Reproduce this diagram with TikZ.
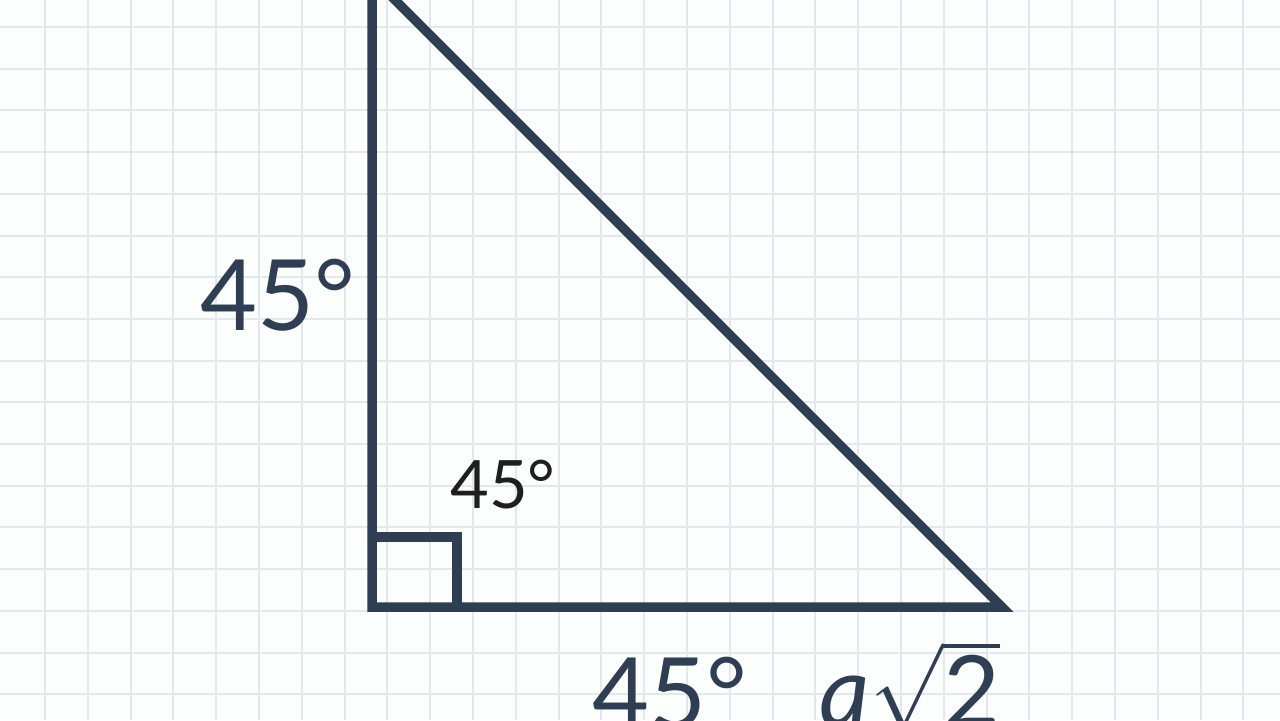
\documentclass[tikz,border=0pt]{standalone}
\usepackage{fontspec}
\setmainfont{Lato}
\definecolor{paper}{HTML}{FCFDFD}
\definecolor{gridblue}{HTML}{E3E8EC}
\definecolor{slate}{HTML}{2F3E53}

\begin{document}
\begin{tikzpicture}
    [x=0.1mm, y=-0.1mm,
    gridline/.style={draw=gridblue, line width=0.2mm},
    side/.style={draw=slate, line width=0.95mm, line join=miter},
    angle/.style={anchor=base, inner sep=0pt, text=slate,
        font=\fontsize{28}{32}\selectfont},
    smallangle/.style={angle, text=black!88,
        font=\fontsize{19}{22}\selectfont}
    ]

    \useasboundingbox (0,0) rectangle (1280,720);
    \clip (0,0) rectangle (1280,720);
    \fill[paper] (0,0) rectangle (1280,720);

    % squared paper
    \foreach \i in {0,...,28}
        \draw[gridline] (45+42.8*\i,0) -- (45+42.8*\i,720);
    \foreach \j in {0,...,16}
        \draw[gridline] (0,27+41.7*\j) -- (1280,27+41.7*\j);

    % triangle
    \coordinate (apex) at (372,-23);
    \coordinate (corner) at (372,607);
    \coordinate (tip) at (1002,607);
    \draw[side] (apex) -- (corner) -- (tip) -- cycle;
    \draw[side] (corner) ++(0,-70) -| ++(85,70);

    % labels
    \node[angle] (leftangle) at (278,330) {45°};
    \node[smallangle] (innerangle) at (503,508) {45°};
    \node[angle] (bottomangle) at (670,728) {45°};
    \node[angle] (hypotenuse) at (910,726) {\textit{a}$\sqrt{\mbox{2}}$};
\end{tikzpicture}
\end{document}
